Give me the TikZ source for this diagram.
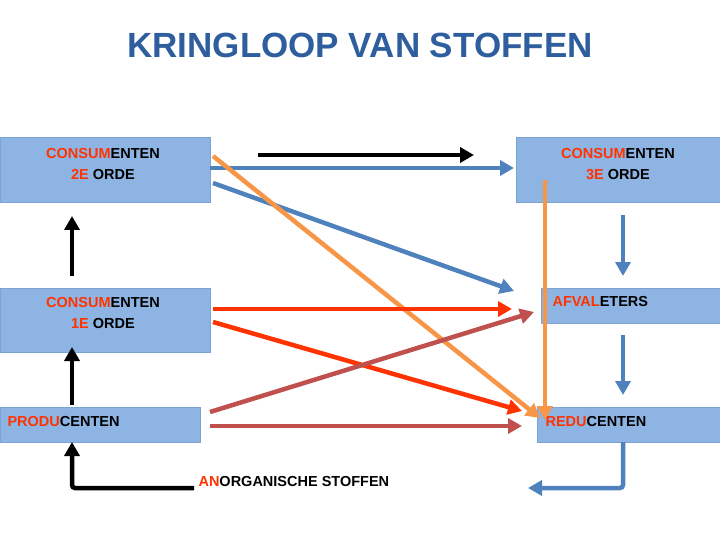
\documentclass[tikz,border=0pt]{standalone}
\usepackage{fontspec}
\setmainfont{Liberation Sans}
\usetikzlibrary{arrows.meta}
\definecolor{boxf}{HTML}{8EB4E3}
\definecolor{boxd}{HTML}{7BA3D6}
\definecolor{blu}{HTML}{4F81BD}
\definecolor{rd}{HTML}{FF3300}
\definecolor{org}{HTML}{F79646}
\definecolor{brn}{HTML}{C0504D}
\definecolor{ttl}{HTML}{2F5E9E}
\newcommand{\rr}[1]{\textcolor{rd}{#1}}
\begin{document}
\begin{tikzpicture}[x=1pt,y=-1pt,
 box/.style={draw=boxd,fill=boxf,line width=0.6pt,anchor=north west,inner sep=0pt},
 lbl/.style={font=\bfseries\fontsize{14.5}{21}\selectfont,align=center},
 ar/.style={line width=4.5pt,-{Triangle[length=14pt,width=15pt]}}]
\useasboundingbox (0,0) rectangle (720,540);
\node[font=\bfseries\fontsize{35}{40}\selectfont,text=ttl] (title) at (360,45) {KRINGLOOP VAN STOFFEN};
\node[box,minimum width=210,minimum height=65] (c2) at (0,137) {};
\node[lbl] at (103,164) {\rr{CONSUM}ENTEN\\\rr{2E} ORDE};
\node[box,minimum width=205,minimum height=65] (c3) at (516,137) {};
\node[lbl] at (618,164) {\rr{CONSUM}ENTEN\\\rr{3E} ORDE};
\node[box,minimum width=210,minimum height=64] (c1) at (0,288) {};
\node[lbl] at (103,313) {\rr{CONSUM}ENTEN\\\rr{1E} ORDE};
\node[box,minimum width=180,minimum height=35] (af) at (541,288) {};
\node[lbl,anchor=west] at (549,302) {\rr{AFVAL}ETERS};
\node[box,minimum width=200,minimum height=35] (pr) at (0,407) {};
\node[lbl,anchor=west] at (4,422) {\rr{PRODU}CENTEN};
\node[box,minimum width=184,minimum height=35] (re) at (537,407) {};
\node[lbl,anchor=west] at (542,422) {\rr{REDU}CENTEN};
\node[lbl,anchor=west] (an) at (195,482) {\rr{AN}ORGANISCHE STOFFEN};
\coordinate (k1) at (72,488);
\coordinate (k2) at (623,488);
% arrows
\draw[ar,black] (258,155) -- (474,155);
\draw[ar,blu] (210,168) -- (514,168);
\draw[ar,blu] (213,183) -- (514,291);
\draw[ar,org] (213,156) -- (540,418);
\draw[ar,org] (545,180) -- (545,420);
\draw[ar,rd] (213,309) -- (512,309);
\draw[ar,rd] (213,322) -- (522,411);
\draw[ar,brn] (210,412) -- (534,312);
\draw[ar,brn] (210,426) -- (522,426);
\draw[ar,blu] (623,215) -- (623,276);
\draw[ar,blu] (623,335) -- (623,395);
\draw[ar,blu,rounded corners=3pt] (623,442) -- (k2) -- (528,488);
\draw[ar,black] (72,276) -- (72,216);
\draw[ar,black] (72,405) -- (72,347);
\draw[ar,black,rounded corners=3pt] (194,488) -- (k1) -- (72,442);
\end{tikzpicture}
\end{document}
